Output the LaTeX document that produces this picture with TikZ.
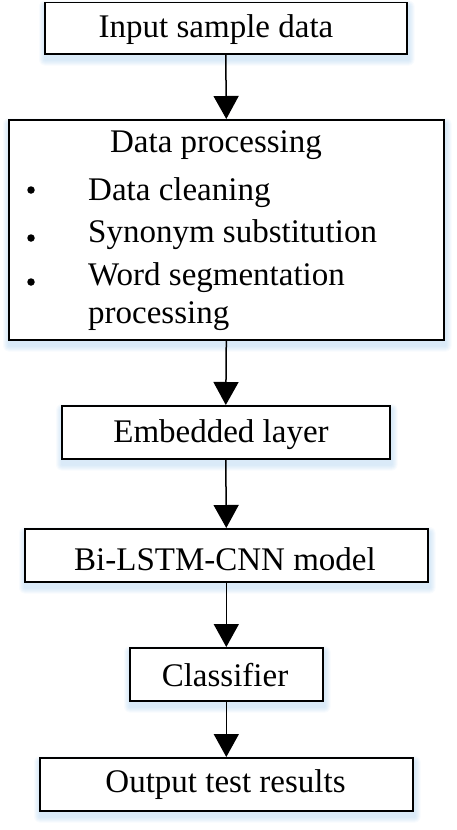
\documentclass[tikz,border=0pt]{standalone}
\usepackage{fontspec}
\setmainfont{Liberation Serif}
\usetikzlibrary{arrows.meta,backgrounds}
\definecolor{shadowc}{RGB}{150,195,235}
\tikzset{
  boxnode/.style={draw=black, line width=1.6pt, fill=white, inner sep=0pt, anchor=north west},
  txt/.style={font=\fontsize{33}{39}\selectfont, anchor=base, inner sep=0pt},
  txtl/.style={font=\fontsize{33}{39}\selectfont, anchor=base west, inner sep=0pt},
  bul/.style={circle, fill=black, inner sep=0pt, minimum size=7.5pt},
  arr/.style={line width=1.5pt, -{Triangle[length=23pt,width=25pt]}},
}
\begin{document}
\begin{tikzpicture}[x=1pt,y=-1pt]
\useasboundingbox (0,0) rectangle (456,830);
% boxes
\node[boxnode, minimum width=362pt, minimum height=51.5pt] (b1) at (44,1.5) {};
\node[boxnode, minimum width=435pt, minimum height=220pt] (b2) at (8,119) {};
\node[boxnode, minimum width=328pt, minimum height=53pt] (b3) at (61,405) {};
\node[boxnode, minimum width=403pt, minimum height=53pt] (b4) at (24,528) {};
\node[boxnode, minimum width=193pt, minimum height=53pt] (b5) at (129,647) {};
\node[boxnode, minimum width=373pt, minimum height=53pt] (b6) at (39,757) {};
% shadows
\begin{scope}[on background layer]
\foreach \n in {b1,b2,b3,b4,b5,b6}{
  \foreach \s in {1,...,6}{
    \fill[shadowc, opacity=0.07, rounded corners=\s pt]
      ([xshift={(1-\s)*1pt}, yshift={(-5-\s)*1pt}]\n.south west) rectangle
      ([xshift={(1+\s)*1pt}, yshift={(-5+\s)*1pt}]\n.north east);
  }}
\end{scope}
% texts
\node[txt] (t1) at (216,37) {Input sample data};
\node[txt] (t2) at (216,152) {Data processing};
\node[txtl] (i1) at (88,200.5) {Data cleaning};
\node[txtl] (i2) at (88,242) {Synonym substitution};
\node[txtl] (i3) at (88,285) {Word segmentation};
\node[txtl] (i4) at (88,323) {processing};
\node[bul] (d1) at (31,190) {};
\node[bul] (d2) at (31,238) {};
\node[bul] (d3) at (31,282) {};
\node[txt] (t3) at (221,442) {Embedded layer};
\node[txt] (t4) at (225,570) {Bi-LSTM-CNN model};
\node[txt] (t5) at (225,686) {Classifier};
\node[txt] (t6) at (225.5,792) {Output test results};
% arrows
\draw[arr] (b1.south) -- (b2.north);
\draw[arr] (b2.south) -- (b3.north);
\draw[arr] (b3.south) -- (b4.north);
\draw[arr] (b4.south) -- (b5.north);
\draw[arr] (b5.south) -- (b6.north);
\end{tikzpicture}
\end{document}
